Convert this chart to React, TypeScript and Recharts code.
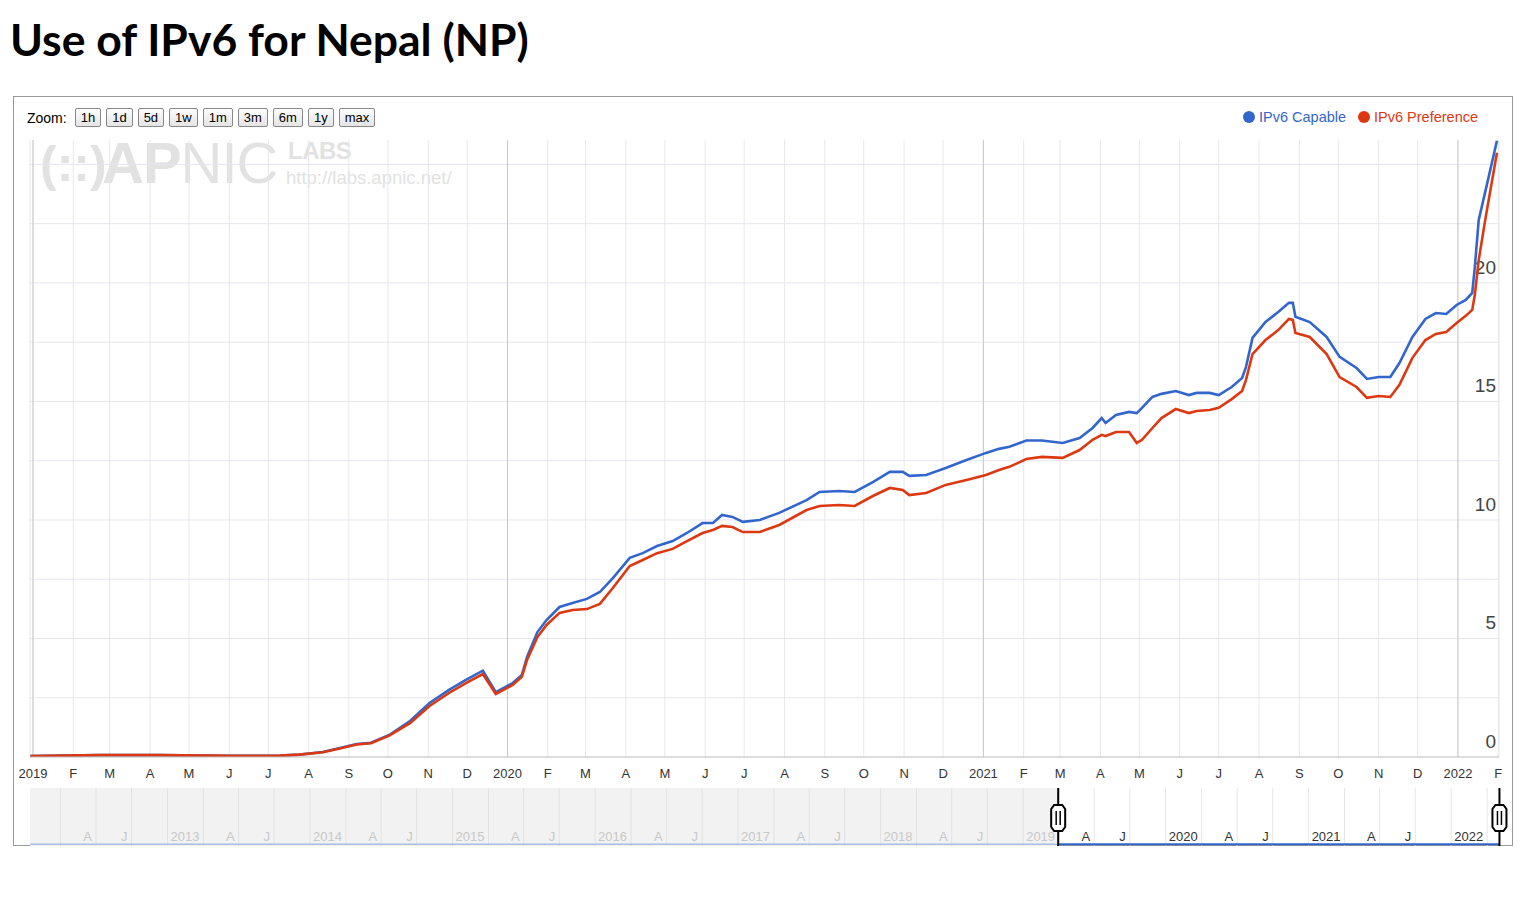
import React from 'react';
import { LineChart, Line, XAxis, YAxis, CartesianGrid, ReferenceLine, ReferenceArea } from 'recharts';

const DAY = 86400000;

// sampled readings, % of users
const dates = [
  '2018-12-30', '2019-02-21', '2019-04-08', '2019-06-01', '2019-07-10', '2019-07-25', '2019-08-12', '2019-08-25',
  '2019-09-07', '2019-09-18', '2019-10-02', '2019-10-18', '2019-11-02', '2019-11-17', '2019-11-30', '2019-12-13',
  '2019-12-23', '2020-01-05', '2020-01-12', '2020-01-16', '2020-01-24', '2020-01-31', '2020-02-10', '2020-02-20',
  '2020-03-02', '2020-03-12', '2020-03-22', '2020-04-04', '2020-04-14', '2020-04-25', '2020-05-07', '2020-05-18',
  '2020-05-30', '2020-06-07', '2020-06-14', '2020-06-22', '2020-06-30', '2020-07-13', '2020-07-28', '2020-08-18',
  '2020-08-28', '2020-09-12', '2020-09-24', '2020-10-08', '2020-10-21', '2020-10-31', '2020-11-05', '2020-11-18',
  '2020-12-03', '2020-12-19', '2021-01-03', '2021-01-13', '2021-01-21', '2021-02-03', '2021-02-15', '2021-03-03',
  '2021-03-16', '2021-03-26', '2021-04-02', '2021-04-05', '2021-04-13', '2021-04-23', '2021-04-29', '2021-05-03',
  '2021-05-11', '2021-05-18', '2021-05-29', '2021-06-08', '2021-06-14', '2021-06-24', '2021-07-01', '2021-07-11',
  '2021-07-19', '2021-07-22', '2021-07-27', '2021-08-06', '2021-08-16', '2021-08-24', '2021-08-27', '2021-08-29',
  '2021-09-09', '2021-09-22', '2021-10-02', '2021-10-15', '2021-10-23', '2021-11-01', '2021-11-10', '2021-11-17',
  '2021-11-27', '2021-12-07', '2021-12-15', '2021-12-23', '2021-12-31', '2022-01-07', '2022-01-12', '2022-01-14',
  '2022-01-17', '2022-01-22', '2022-01-31',
];

const capable = [
  0.04, 0.08, 0.08, 0.05, 0.06, 0.1, 0.21, 0.38,
  0.55, 0.6, 0.93, 1.52, 2.28, 2.83, 3.25, 3.64,
  2.74, 3.12, 3.46, 4.22, 5.27, 5.78, 6.33, 6.5,
  6.67, 6.96, 7.55, 8.4, 8.6, 8.9, 9.11, 9.45,
  9.87, 9.87, 10.21, 10.13, 9.92, 10.0, 10.3, 10.84,
  11.18, 11.22, 11.18, 11.6, 12.03, 12.03, 11.86, 11.9,
  12.19, 12.53, 12.83, 13.0, 13.09, 13.35, 13.35, 13.25,
  13.46, 13.88, 14.3, 14.09, 14.43, 14.56, 14.51, 14.73,
  15.19, 15.32, 15.44, 15.27, 15.36, 15.36, 15.27, 15.61,
  15.99, 16.46, 17.68, 18.35, 18.78, 19.16, 19.16, 18.57,
  18.35, 17.72, 16.88, 16.41, 15.95, 16.03, 16.03, 16.62,
  17.72, 18.48, 18.73, 18.69, 19.07, 19.28, 19.58, 20.68,
  22.66, 23.84, 26.0,
];

const preference = [
  0.04, 0.08, 0.08, 0.05, 0.06, 0.1, 0.2, 0.36,
  0.53, 0.58, 0.9, 1.43, 2.15, 2.7, 3.12, 3.5,
  2.66, 3.04, 3.38, 4.09, 5.06, 5.57, 6.08, 6.2,
  6.24, 6.46, 7.13, 8.06, 8.31, 8.6, 8.78, 9.11,
  9.45, 9.58, 9.75, 9.7, 9.49, 9.49, 9.79, 10.42,
  10.59, 10.63, 10.59, 11.01, 11.35, 11.27, 11.05, 11.14,
  11.48, 11.69, 11.9, 12.11, 12.24, 12.57, 12.66, 12.62,
  12.95, 13.38, 13.59, 13.54, 13.71, 13.71, 13.25, 13.38,
  13.88, 14.3, 14.68, 14.51, 14.6, 14.64, 14.73, 15.1,
  15.44, 15.91, 17.0, 17.59, 18.02, 18.48, 18.44, 17.89,
  17.72, 17.0, 16.03, 15.61, 15.15, 15.23, 15.19, 15.7,
  16.84, 17.59, 17.85, 17.93, 18.31, 18.61, 18.86, 19.5,
  20.97, 22.66, 25.49,
];

const monthLetters = ['', 'F', 'M', 'A', 'M', 'J', 'J', 'A', 'S', 'O', 'N', 'D'];
const quarterLetters = ['', 'A', 'J', ''];
const yTicks = [0, 2.5, 5, 7.5, 10, 12.5, 15, 17.5, 20, 22.5, 25];
const yLabels = [0, 5, 10, 15, 20];
const zoomButtons = ['1h', '1d', '5d', '1w', '1m', '3m', '6m', '1y', 'max'];
const seriesNames = ['IPv6 Capable', 'IPv6 Preference'];

const BLUE = '#3366cc';
const RED = '#dc3912';
const FONT = '"Liberation Sans", Arial, sans-serif';

const rows = dates.map((d, i) => ({ t: Date.parse(d), capable: capable[i], preference: preference[i] }));

const mainStart = Date.UTC(2018, 11, 29, 17);
const mainEnd = Date.UTC(2022, 1, 1, 14);
const ovStart = Date.UTC(2019, 0, 1) - 2635 * DAY;
const ovEnd = Date.UTC(2019, 0, 1) + 1129 * DAY;

const monthTicks: number[] = [];
for (let y = 2019; y <= 2022; y++) {
  for (let m = 0; m < 12; m++) {
    const t = Date.UTC(y, m, 1);
    if (t <= mainEnd) monthTicks.push(t);
  }
}
const yearTicks = monthTicks.filter((t) => new Date(t).getUTCMonth() === 0);

const quarterTicks: number[] = [];
for (let y = 2012; y <= 2022; y++) {
  for (let m = 0; m < 12; m += 3) {
    const t = Date.UTC(y, m, 1);
    if (t > ovStart && t < ovEnd) quarterTicks.push(t);
  }
}

const MonthTick = (props: any) => {
  const { x, y, payload } = props;
  const d = new Date(payload.value);
  const m = d.getUTCMonth();
  const label = m === 0 ? String(d.getUTCFullYear()) : monthLetters[m];
  return (
    <text x={x} y={y} dy={20.5} textAnchor="middle" fontSize={13} fill="#333" fontFamily={FONT}>
      {label}
    </text>
  );
};

const valueLabel = (v: number) => (props: any) => {
  const vb = props.viewBox || {};
  return (
    <text x={vb.x + vb.width - 3} y={vb.y - 9} textAnchor="end" fontSize={19} fill="#444" fontFamily={FONT}>
      {v}
    </text>
  );
};

const quarterLabel = (t: number) => (props: any) => {
  const vb = props.viewBox || {};
  const d = new Date(t);
  const m = d.getUTCMonth();
  const label = m === 0 ? String(d.getUTCFullYear()) : quarterLetters[m / 3];
  if (!label || vb.x < 50) return null;
  const fill = t < mainStart + 7 * DAY ? '#c8c8c8' : '#333';
  return (
    <text x={vb.x - 4} y={53} textAnchor="end" fontSize={13} fill={fill} fontFamily={FONT}>
      {label}
    </text>
  );
};

const Grip = (props: any) => {
  const vb = props.viewBox || {};
  const cx = vb.x;
  const cy = 30;
  const pts = [
    [cx - 4, cy - 13], [cx + 4, cy - 13], [cx + 7, cy - 9], [cx + 7, cy + 9],
    [cx + 4, cy + 13], [cx - 4, cy + 13], [cx - 7, cy + 9], [cx - 7, cy - 9],
  ].map((p) => p.join(',')).join(' ');
  return (
    <g>
      <polygon points={pts} fill="#fff" stroke="#000" strokeWidth={2} />
      <line x1={cx - 2} x2={cx - 2} y1={cy - 7} y2={cy + 7} stroke="#000" strokeWidth={1.5} />
      <line x1={cx + 2} x2={cx + 2} y1={cy - 7} y2={cy + 7} stroke="#000" strokeWidth={1.5} />
    </g>
  );
};

const btnStyle: React.CSSProperties = {
  fontFamily: FONT,
  fontSize: 13,
  height: 19,
  lineHeight: '17px',
  padding: '0 5px',
  border: '1px solid #888',
  borderRadius: 2,
  background: 'linear-gradient(#fdfdfd, #e4e4e4)',
  boxSizing: 'border-box',
  color: '#000',
};

export default function App() {
  return (
    <div style={{ position: 'absolute', left: 0, top: 0, width: 1540, height: 906, background: '#fff' }}>
      <style>{'.recharts-surface{overflow:visible}'}</style>
      <div
        style={{
          position: 'absolute', left: 10, top: 16, fontFamily: 'Lato, sans-serif', fontWeight: 700,
          fontSize: 44.5, lineHeight: '45px', color: '#000', whiteSpace: 'nowrap',
        }}
      >
        Use of IPv6 for Nepal (NP)
      </div>

      <div style={{ position: 'absolute', left: 13, top: 96, width: 1498, height: 748, border: '1px solid #999' }} />

      <div style={{ position: 'absolute', left: 27, top: 108, height: 19, display: 'flex', alignItems: 'center' }}>
        <span style={{ fontFamily: FONT, fontSize: 14, marginRight: 8 }}>Zoom:</span>
        <div style={{ display: 'flex', gap: 5 }}>
          {zoomButtons.map((b) => (
            <div key={b} style={btnStyle}>{b}</div>
          ))}
        </div>
      </div>

      <div style={{ position: 'absolute', left: 1243, top: 107, display: 'flex', alignItems: 'center', height: 19 }}>
        {seriesNames.map((n, i) => (
          <div key={n} style={{ display: 'flex', alignItems: 'center', marginRight: i === 0 ? 12 : 0 }}>
            <span style={{ width: 12, height: 12, borderRadius: 6, background: i === 0 ? BLUE : RED, marginRight: 4 }} />
            <span style={{ fontFamily: FONT, fontSize: 14.5, color: i === 0 ? BLUE : RED }}>{n}</span>
          </div>
        ))}
      </div>

      <div style={{ position: 'absolute', left: 40, top: 128, color: '#e2e2e2', fontFamily: FONT, pointerEvents: 'none', whiteSpace: 'nowrap' }}>
        <span style={{ position: 'absolute', left: 0, top: 6, fontSize: 50, fontWeight: 700, lineHeight: '60px' }}>(::)</span>
        <span style={{ position: 'absolute', left: 62, top: 2, fontSize: 58, lineHeight: '66px', letterSpacing: -1 }}>
          <b>AP</b>NIC
        </span>
        <span style={{ position: 'absolute', left: 248, top: 9, fontSize: 24, fontWeight: 700, lineHeight: '28px', letterSpacing: -0.5 }}>LABS</span>
        <span style={{ position: 'absolute', left: 246, top: 39, fontSize: 18.5, lineHeight: '22px' }}>http://labs.apnic.net/</span>
      </div>

      <div style={{ position: 'absolute', left: 30, top: 140 }}>
        <LineChart width={1470} height={647} data={rows} margin={{ top: 0, right: 0, bottom: 0, left: 0 }}>
          <CartesianGrid horizontal={false} stroke="#e8e8e8" strokeWidth={1} />
          <XAxis
            dataKey="t"
            type="number"
            domain={[mainStart, mainEnd]}
            allowDataOverflow
            ticks={monthTicks}
            interval={0}
            height={30}
            tickSize={0}
            tickMargin={0}
            tickLine={false}
            axisLine={{ stroke: '#bbb' }}
            tick={<MonthTick />}
          />
          <YAxis
            orientation="right"
            width={1}
            domain={[0, 26.03]}
            ticks={yTicks}
            interval={0}
            tickLine={false}
            axisLine={false}
            allowDataOverflow
            tick={false}
          />
          {yTicks.filter((v) => v > 0).map((v) => (
            <ReferenceLine key={'g' + v} y={v} stroke="#e6e6f0" strokeWidth={1} />
          ))}
          {yearTicks.map((t) => (
            <ReferenceLine key={t} x={t} stroke="#c8c8c8" strokeWidth={1} />
          ))}
          {yLabels.map((v) => (
            <ReferenceLine key={'y' + v} y={v} stroke="none" label={valueLabel(v)} />
          ))}
          <Line type="linear" dataKey="capable" stroke={BLUE} strokeWidth={2.6} dot={false} isAnimationActive={false} />
          <Line type="linear" dataKey="preference" stroke={RED} strokeWidth={2.6} dot={false} isAnimationActive={false} />
        </LineChart>
      </div>

      <div style={{ position: 'absolute', left: 30, top: 788 }}>
        <LineChart width={1470} height={59} data={rows} margin={{ top: 0, right: 0, bottom: 0, left: 0 }}>
          <XAxis
            dataKey="t"
            type="number"
            domain={[ovStart, ovEnd]}
            allowDataOverflow
            ticks={quarterTicks}
            height={1}
            tick={false}
            tickLine={false}
            axisLine={false}
          />
          <YAxis hide domain={[-0.03, 1]} allowDataOverflow />
          <ReferenceArea x1={ovStart} x2={mainStart} y1={-0.03} y2={1} fill="#f2f2f2" fillOpacity={1} stroke="none" ifOverflow="visible" />
          {quarterTicks.map((t) => (
            <ReferenceLine
              key={t}
              x={t}
              stroke={t < mainStart ? '#e2e2e2' : '#e6e6e6'}
              strokeWidth={1}
              label={quarterLabel(t)}
            />
          ))}
          <ReferenceLine segment={[{ x: ovStart, y: 0 }, { x: mainStart, y: 0 }]} stroke="#a9bde6" strokeWidth={1.5} ifOverflow="visible" />
          <ReferenceLine segment={[{ x: mainStart, y: 0 }, { x: mainEnd, y: 0 }]} stroke={BLUE} strokeWidth={2} ifOverflow="visible" />
          <ReferenceLine x={mainStart} stroke="#000" strokeWidth={2} label={<Grip />} />
          <ReferenceLine x={mainEnd} stroke="#000" strokeWidth={2} label={<Grip />} />
        </LineChart>
      </div>
    </div>
  );
}
